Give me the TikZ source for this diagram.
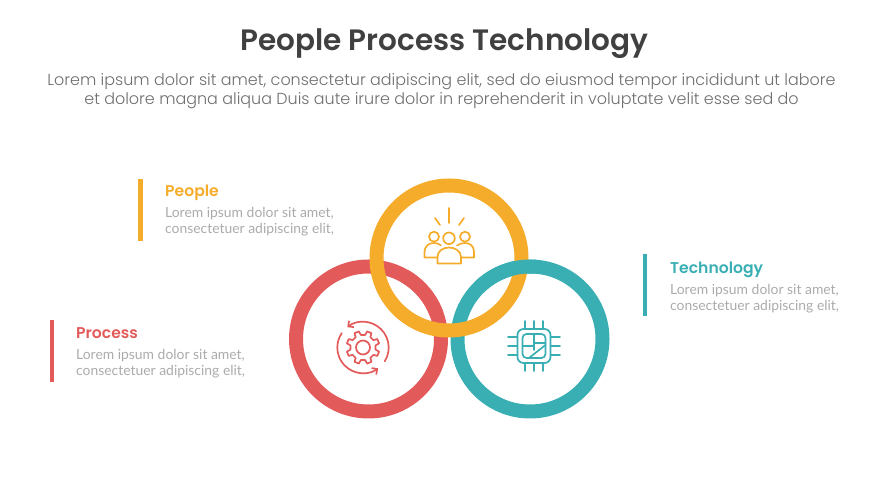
\documentclass[tikz,border=0pt]{standalone}
\usepackage{fontspec}
\setmainfont{Poppins}[UprightFont=* Light,BoldFont=* SemiBold]
\newfontfamily\sidefont{Lato}
\usetikzlibrary{positioning,arrows.meta}

\definecolor{peoplecol}{HTML}{F5AC2B}
\definecolor{processcol}{HTML}{E35A5A}
\definecolor{techcol}{HTML}{3AAFB3}
\definecolor{titlecol}{HTML}{404040}
\definecolor{subcol}{HTML}{6E6E6E}
\definecolor{sidecol}{HTML}{ABABAB}

\tikzset{
	x=1pt, y=1pt,
	ring/.style={circle, draw=#1, line width=14pt, minimum size=145pt, inner sep=0pt, outer sep=0pt},
	sidebar/.style={fill=#1, minimum width=4.5pt, minimum height=62pt, inner sep=0pt, outer sep=0pt},
	heading/.style={text=#1, font=\fontsize{15.6}{18}\selectfont\bfseries, anchor=base west, inner sep=0pt},
	sidetext/.style={text=sidecol, font=\sidefont\fontsize{13.9}{16}\selectfont, align=left, inner sep=0pt},
	subtext/.style={text=subcol, font=\fontsize{15.95}{19}\selectfont, align=center, inner sep=0pt},
	icon/.style={draw=#1, line width=1.7pt, line cap=round, line join=round},
}

\begin{document}
\begin{tikzpicture}
	\useasboundingbox (0,0) rectangle (889,500);

	\node [text=titlecol, font=\fontsize{29.5}{36}\selectfont\bfseries, inner sep=0pt] (title) at (444.5,456) {People Process Technology};
	\node [subtext, below=22pt of title.base, xshift=-3pt, anchor=north] (sub) {Lorem ipsum dolor sit amet, consectetur adipiscing elit, sed do eiusmod tempor incididunt ut labore\\et dolore magna aliqua Duis aute irure dolor in reprehenderit in voluptate velit esse sed do};

	% rings
	\node [ring=processcol] (process) at (368.5,161) {};
	\node [ring=techcol] (tech) at (530,161) {};
	\node [ring=peoplecol] (people) at (449,242) {};
	\draw [processcol, line width=14pt] (process.center) ++(20:72.5) arc (20:60:72.5);
	\draw [techcol, line width=14pt] (tech.center) ++(85:72.5) arc (85:135:72.5);

	% side texts
	\node [sidebar=peoplecol] (barA) at (140.5,290) {};
	\node [heading=peoplecol] (headA) at (165,303) {People};
	\node [sidetext, below=10pt of headA.base west, anchor=north west] (textA) {Lorem ipsum dolor sit amet,\\consectetuer adipiscing elit,};

	\node [sidebar=processcol] (barB) at (52,149) {};
	\node [heading=processcol] (headB) at (76,161) {Process};
	\node [sidetext, below=10pt of headB.base west, anchor=north west] (textB) {Lorem ipsum dolor sit amet,\\consectetuer adipiscing elit,};

	\node [sidebar=techcol] (barC) at (645,214.5) {};
	\node [heading=techcol] (headC) at (670,226) {Technology};
	\node [sidetext, below=10pt of headC.base west, anchor=north west] (textC) {Lorem ipsum dolor sit amet,\\consectetuer adipiscing elit,};

	% people icon
	\begin{scope}[shift={(449,258)}]
		\draw [icon=peoplecol] (0,34) -- (0,19);
		\draw [icon=peoplecol] (-14,24) -- (-9,17);
		\draw [icon=peoplecol] (15,24) -- (10,17);
		\draw [icon=peoplecol] (0,3.7) circle (5.8);
		\draw [icon=peoplecol] (-15,5.3) circle (5);
		\draw [icon=peoplecol] (16,5.3) circle (5);
		\draw [icon=peoplecol] (-11.5,-21.5) -- (12,-21.5) -- (12,-15) .. controls (12,-9) and (6,-5.5) .. (0,-5.5) .. controls (-6,-5.5) and (-11.5,-9) .. (-11.5,-15) -- cycle;
		\draw [icon=peoplecol] (-11.5,-15.5) -- (-24.5,-15.5) -- (-24.5,-10) .. controls (-24.5,-4) and (-20,-1) .. (-15,-1) .. controls (-12,-1) and (-10,-2) .. (-8,-3.5);
		\draw [icon=peoplecol] (12,-15.5) -- (25,-15.5) -- (25,-10) .. controls (25,-4) and (21,-1) .. (16,-1) .. controls (13,-1) and (10,-2) .. (8,-3.5);
	\end{scope}

	% process icon
	\begin{scope}[shift={(363,152.5)}]
		\draw [icon=processcol] (0,0) circle (7);
		\draw [icon=processcol] (9.5:12.7)
			\foreach \a in {0,45,...,315} {
				-- ({\a+22.5-13}:12.7) -- ({\a+22.5-8}:16.6) -- ({\a+22.5+8}:16.6) -- ({\a+22.5+13}:12.7)
			} -- cycle;
		\draw [icon=processcol, -{Straight Barb[length=4pt,width=8pt]}] (-32.5:25.7) arc (-32.5:127.6:25.7);
		\draw [icon=processcol, -{Straight Barb[length=4pt,width=8pt]}] (146:25.7) arc (146:306:25.7);
	\end{scope}

	% chip icon
	\begin{scope}[shift={(534,154)}]
		\draw [icon=techcol, rounded corners=6pt] (-16.5,-17) rectangle (16.5,17);
		\draw [icon=techcol, rounded corners=4pt] (-11.5,-12) rectangle (11.5,12);
		\foreach \d in {-9,0,9} {
			\draw [icon=techcol] (\d,17) -- (\d,25);
			\draw [icon=techcol] (\d,-17) -- (\d,-25);
			\draw [icon=techcol] (-16.5,\d) -- (-26,\d);
			\draw [icon=techcol] (16.5,\d) -- (26,\d);
		}
		\draw [icon=techcol] (0,12) -- (0,-4);
		\draw [icon=techcol] (-11.5,0) -- (0,0);
		\draw [icon=techcol] (0,3) -- (11.5,3);
		\draw [icon=techcol] (-5,-12) -- (11.5,1);
	\end{scope}
\end{tikzpicture}
\end{document}
